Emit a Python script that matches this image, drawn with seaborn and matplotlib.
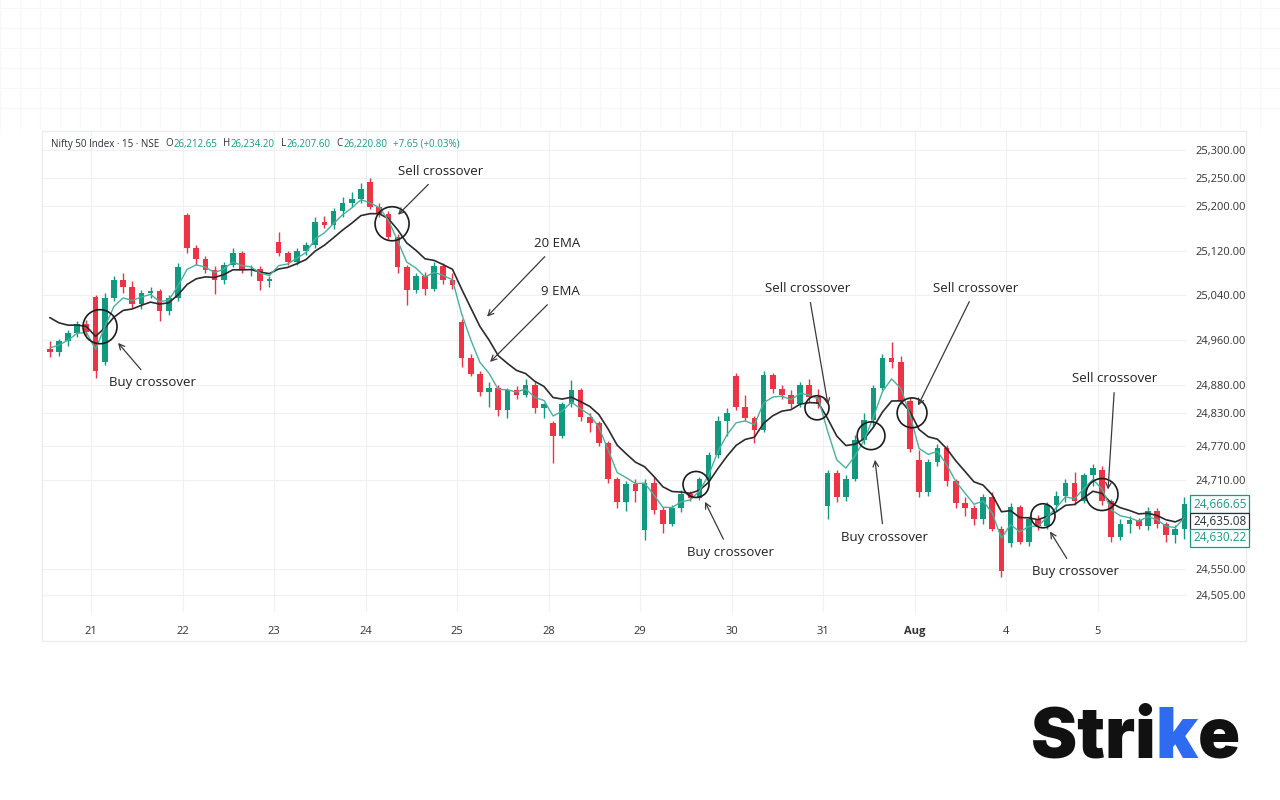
import numpy as np
import pandas as pd
import matplotlib
matplotlib.use("Agg")
import matplotlib.pyplot as plt
from matplotlib.patches import Rectangle
import seaborn as sns

# 1. Data (~37 min bars, 10 per session)
# --------------------------------
day_labels = ["21", "22", "23", "24", "25", "28", "29", "30", "31", "Aug", "4", "5"]
bars_per_day = 10
lead_bars = 5          # bars shown before the "21" session

opens = [
    24945, 24938, 24958, 24972, 24988,
    25037, 24920, 25035, 25068, 25055, 25025, 25045, 25048, 25012, 25035,   # 21
    25184, 25125, 25105, 25085, 25068, 25095, 25116, 25085, 25088, 25065,   # 22
    25136, 25116, 25100, 25120, 25130, 25172, 25166, 25190, 25205, 25212,   # 23
    25243, 25198, 25186, 25145, 25090, 25050, 25075, 25052, 25092, 25068,   # 24
    24993, 24928, 24900, 24868, 24875, 24835, 24870, 24862, 24880, 24838,   # 25
    24812, 24788, 24845, 24870, 24822, 24812, 24776, 24712, 24670, 24702,   # 28
    24620, 24705, 24657, 24632, 24660, 24685, 24678, 24712, 24755, 24815,   # 29
    24895, 24840, 24820, 24800, 24898, 24872, 24862, 24845, 24880, 24858,   # 30
    24663, 24723, 24679, 24712, 24782, 24818, 24875, 24928, 24920, 24852,   # 31
    24745, 24688, 24742, 24768, 24708, 24668, 24660, 24640, 24680, 24622,   # Aug 1
    24597, 24662, 24600, 24640, 24628, 24665, 24682, 24705, 24672, 24718,   # 4
    24728, 24672, 24608, 24632, 24638, 24628, 24655, 24632, 24612, 24622,   # 5
]
highs = [
    24958, 24962, 24978, 24995, 24996,
    25040, 25045, 25075, 25080, 25065, 25050, 25055, 25052, 25040, 25098,
    25188, 25130, 25110, 25092, 25100, 25125, 25120, 25095, 25092, 25075,
    25153, 25120, 25125, 25135, 25180, 25182, 25196, 25215, 25225, 25240,
    25250, 25205, 25190, 25150, 25095, 25080, 25082, 25100, 25098, 25080,
    24998, 24935, 24905, 24885, 24880, 24875, 24878, 24890, 24885, 24848,
    24815, 24850, 24889, 24875, 24830, 24815, 24780, 24716, 24708, 24712,
    24712, 24715, 24662, 24665, 24692, 24690, 24715, 24760, 24825, 24838,
    24902, 24862, 24825, 24905, 24902, 24880, 24870, 24885, 24890, 24872,
    24728, 24728, 24718, 24790, 24830, 24880, 24935, 24957, 24932, 24856,
    24764, 24748, 24775, 24772, 24712, 24680, 24665, 24685, 24688, 24628,
    24668, 24665, 24645, 24648, 24670, 24690, 24712, 24725, 24722, 24738,
    24735, 24676, 24640, 24645, 24642, 24662, 24660, 24635, 24630, 24680,
]
lows = [
    24930, 24932, 24950, 24965, 24970,
    24893, 24915, 25030, 25045, 25018, 25015, 25035, 24995, 25005, 25030,
    25115, 25095, 25080, 25042, 25060, 25090, 25080, 25075, 25050, 25055,
    25110, 25095, 25095, 25112, 25125, 25160, 25158, 25180, 25198, 25205,
    25195, 25180, 25140, 25080, 25023, 25045, 25040, 25048, 25060, 25052,
    24912, 24895, 24860, 24840, 24825, 24820, 24855, 24858, 24830, 24820,
    24740, 24785, 24840, 24815, 24795, 24770, 24705, 24660, 24655, 24670,
    24603, 24650, 24615, 24628, 24652, 24672, 24675, 24708, 24750, 24788,
    24835, 24815, 24776, 24795, 24865, 24855, 24838, 24840, 24850, 24838,
    24640, 24670, 24672, 24708, 24775, 24805, 24870, 24910, 24845, 24760,
    24680, 24682, 24735, 24700, 24660, 24645, 24630, 24632, 24618, 24537,
    24590, 24595, 24592, 24620, 24622, 24655, 24670, 24665, 24668, 24700,
    24665, 24600, 24602, 24615, 24622, 24620, 24625, 24600, 24598, 24605,
]
closes = [
    24938, 24958, 24972, 24988, 24975,
    24905, 25035, 25068, 25055, 25025, 25045, 25048, 25012, 25035, 25090,
    25125, 25105, 25085, 25068, 25095, 25116, 25085, 25088, 25065, 25070,
    25116, 25100, 25120, 25130, 25172, 25166, 25190, 25205, 25212, 25230,
    25198, 25186, 25145, 25090, 25050, 25075, 25052, 25092, 25068, 25058,
    24928, 24900, 24868, 24875, 24835, 24870, 24862, 24880, 24838, 24845,
    24788, 24845, 24870, 24822, 24812, 24776, 24712, 24670, 24702, 24690,
    24705, 24657, 24632, 24660, 24685, 24678, 24712, 24755, 24815, 24830,
    24840, 24820, 24800, 24898, 24872, 24862, 24845, 24880, 24858, 24845,
    24723, 24679, 24712, 24782, 24818, 24875, 24928, 24920, 24852, 24765,
    24688, 24742, 24768, 24708, 24668, 24660, 24640, 24680, 24622, 24548,
    24662, 24600, 24640, 24628, 24665, 24682, 24705, 24672, 24718, 24732,
    24672, 24608, 24632, 24638, 24628, 24655, 24632, 24612, 24622, 24666.65,
]

# EMA values at the left edge of the window
ema9_seed = 24952
ema20_seed = 25018

yticks = [25300, 25250, 25200, 25120, 25040, 24960, 24880, 24830, 24770, 24710, 24550, 24505]

header_parts = [("Nifty 50 Index · 15 · NSE", "dark"), ("O", "dark"), ("26,212.65", "teal"),
                ("H", "dark"), ("26,234.20", "teal"), ("L", "dark"), ("26,207.60", "teal"),
                ("C", "dark"), ("26,220.80", "teal"), ("+7.65 (+0.03%)", "teal")]

# last price / EMA tags on the price scale
last_close_text = "24,666.65"
ema20_last_text = "24,635.08"
ema9_last_text = "24,630.22"

# crossover circles: (day position, price, marker size)
circle_x = [0.098, 3.29, 6.612, 7.934, 8.525, 8.973, 10.404, 11.049]
circle_y = [24984, 25168, 24702, 24839, 24789, 24830, 24646, 24684]
circle_s = [600, 600, 350, 300, 400, 460, 300, 530]

# callouts: text, text position, arrow head
callouts = [
    ("Buy crossover", (0.667, 24884), (0.295, 24955)),
    ("Sell crossover", (3.825, 25261), (3.355, 25184)),
    ("20 EMA", (5.093, 25132), (4.328, 25002)),
    ("9 EMA", (5.126, 25046), (4.361, 24921)),
    ("Buy crossover", (6.984, 24580), (6.71, 24671)),
    ("Sell crossover", (7.836, 25052), (8.055, 24844)),
    ("Buy crossover", (8.667, 24607), (8.568, 24746)),
    ("Sell crossover", (9.672, 25053), (9.038, 24843)),
    ("Buy crossover", (10.754, 24546), (10.481, 24618)),
    ("Sell crossover", (11.191, 24891), (11.115, 24693)),
]

# 2. Preparation
# --------------------------------
df = pd.DataFrame({"open": opens, "high": highs, "low": lows, "close": closes})
df["x"] = (np.arange(len(df)) - lead_bars + 0.5) / bars_per_day


def ema(values, span, seed):
    alpha = 2 / (span + 1)
    out, prev = [], seed
    for v in values:
        prev = prev + alpha * (v - prev)
        out.append(prev)
    return out


# 9 / 20 period EMAs of 15-minute bars, rescaled to this bar length
df["ema9"] = ema(df["close"], 9 * bars_per_day / 25, ema9_seed)
df["ema20"] = ema(df["close"], 20 * bars_per_day / 25, ema20_seed)

UP = "#129a7f"
DOWN = "#ec3446"
TEAL = "#169c84"
DARK = "#2a2e39"

# 3. Plot
# --------------------------------
sns.set_theme(style="white")
plt.rcParams["font.family"] = ["Open Sans", "DejaVu Sans"]

W, H = 1280, 800
fig = plt.figure(figsize=(W / 100, H / 100), dpi=100)
fig.patch.set_facecolor("white")

# background: faint graph paper + white chart panel
bg = fig.add_axes([0, 0, 1, 1], zorder=0)
bg.set_xlim(0, W)
bg.set_ylim(H, 0)
bg.axis("off")
for gx in np.arange(0, W, 20):
    bg.plot([gx, gx], [0, 128], color="#f7f7f7", lw=0.8)
for gy in np.arange(8, 128, 20):
    bg.plot([0, W], [gy, gy], color="#f7f7f7", lw=0.8)
bg.add_patch(Rectangle((42, 131), 1204, 510, fc="white", ec="#ececec", lw=1))

ax = fig.add_axes([43 / W, 1 - 612 / H, (1187 - 43) / W, (612 - 132) / H], zorder=1)
ax.patch.set_alpha(0)

up = df["close"] >= df["open"]
colors = np.where(up, UP, DOWN)
ax.vlines(df["x"], df["low"], df["high"], colors=colors, lw=1, zorder=3)
body = (df["close"] - df["open"]).where(lambda s: s.abs() > 1.5, 1.5)
ax.bar(df["x"], body, bottom=df["open"], width=0.062, color=colors, linewidth=0, zorder=4)

sns.lineplot(x=df["x"], y=df["ema20"], color="#2b2b2b", lw=1.2, ax=ax, zorder=5)
sns.lineplot(x=df["x"], y=df["ema9"], color="#46b29c", lw=1.0, ax=ax, zorder=5)

ax.scatter(circle_x, circle_y, s=circle_s, facecolors="none", edgecolors="#1c1c1c",
           linewidths=1.2, zorder=6)

for txt, tpos, head in callouts:
    ax.annotate(txt, xy=head, xytext=tpos, ha="center", va="center", fontsize=9.5,
                color="#222222", zorder=7,
                arrowprops=dict(arrowstyle="->", color="#3a3a3a", lw=0.9,
                                shrinkA=3, shrinkB=0, mutation_scale=10))

ax.set_xlim(-0.525, 11.978)
ax.set_ylim(24474, 25332)
ax.set_xticks(range(len(day_labels)))
ax.set_xticklabels(day_labels)
for lab in ax.get_xticklabels():
    if lab.get_text() == "Aug":
        lab.set_fontweight("bold")
ax.set_yticks(yticks)
ax.set_yticklabels([f"{v:,.2f}" for v in yticks])
ax.yaxis.tick_right()
ax.tick_params(axis="y", length=0, pad=6, labelsize=8, labelcolor="#333333")
ax.tick_params(axis="x", length=0, pad=10, labelsize=8, labelcolor="#333333")
ax.grid(True, color="#f0f0f0", lw=0.8)
ax.set_xlabel("")
ax.set_ylabel("")
for s in ax.spines.values():
    s.set_visible(False)

# price-scale tags
tags = [(last_close_text, float(closes[-1]), 0, TEAL),
        (ema20_last_text, 24635.08, 0, DARK),
        (ema9_last_text, 24630.22, -13, TEAL)]
for txt, price, dy, col in tags:
    ax.annotate(txt, xy=(1, price), xycoords=("axes fraction", "data"),
                xytext=(6, dy), textcoords="offset pixels", ha="left", va="center",
                fontsize=8.5, color=col, annotation_clip=False, zorder=8,
                bbox=dict(boxstyle="square,pad=0.22", fc="white", ec=col, lw=0.9))

# header line
palette = {"dark": DARK, "teal": TEAL}
prev = fig.text(51 / W, 1 - 144 / H, header_parts[0][0], color=palette[header_parts[0][1]],
                fontsize=7, va="center")
for i, (txt, key) in enumerate(header_parts[1:], start=1):
    gap = 6 if header_parts[i - 1][1] == "teal" or i == 1 else 0.5
    prev = ax.annotate(txt, xy=(1, 0), xycoords=prev, xytext=(gap, 0),
                       textcoords="offset pixels", va="bottom", ha="left",
                       fontsize=7, color=palette[key], annotation_clip=False)

# logo
logo_font = dict(fontsize=50, fontweight="black", family=["Inter", "DejaVu Sans"])
logo = fig.text(1031 / W, 1 - 772 / H, "Stri", color="#111111", va="bottom", **logo_font)
k = ax.annotate("k", xy=(1, 0), xycoords=logo, va="bottom", ha="left", color="#2f6bf0",
                annotation_clip=False, **logo_font)
ax.annotate("e", xy=(1, 0), xycoords=k, va="bottom", ha="left", color="#111111",
            annotation_clip=False, **logo_font)

fig.savefig("out.png", dpi=100, facecolor="white")
